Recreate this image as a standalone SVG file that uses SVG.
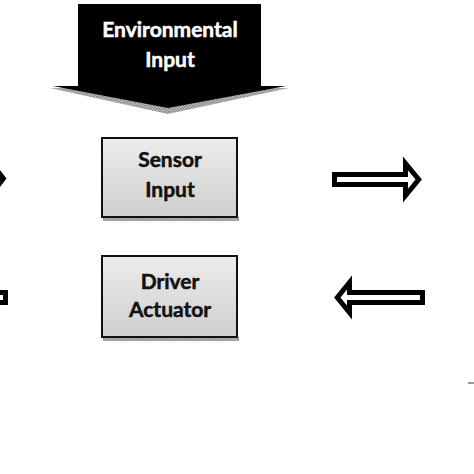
<svg xmlns="http://www.w3.org/2000/svg" width="474" height="474" viewBox="0 0 474 474">
  <defs>
    <linearGradient id="boxGrad" x1="0" y1="0" x2="0" y2="1">
      <stop offset="0" stop-color="#ececec"/>
      <stop offset="1" stop-color="#cfcfcf"/>
    </linearGradient>
    <pattern id="hatch" width="3" height="3" patternUnits="userSpaceOnUse">
      <rect width="3" height="3" fill="#c4c4c4"/>
      <rect width="1.5" height="1.5" fill="#7a7a7a"/>
      <rect x="1.5" y="1.5" width="1.5" height="1.5" fill="#8a8a8a"/>
    </pattern>
  </defs>
  <style>
    .lbl { font-family: "Lato", "Liberation Sans", sans-serif; font-weight: bold; font-size: 21px; text-anchor: middle; stroke-width: 0.5; }
    .dark { fill: #111; stroke: #111; }
    .light { fill: #fff; stroke: #fff; }
    .box { fill: url(#boxGrad); stroke: #111; stroke-width: 2; }
    .shadow { fill: url(#hatch); }
    .block { fill: #fff; stroke: #000; stroke-width: 5; stroke-linejoin: miter; stroke-miterlimit: 10; }
  </style>
  <rect width="474" height="474" fill="#fff"/>

  <g id="environmental-input">
    <polygon class="shadow" points="50,88 289,88 168,114"/>
    <rect x="78" y="4" width="183" height="83" fill="#000"/>
    <polygon points="53,86 286,86 168,108" fill="#000"/>
    <text class="lbl light" x="170" y="37">Environmental</text>
    <text class="lbl light" x="170" y="67">Input</text>
  </g>

  <g id="sensor-input">
    <rect class="shadow" x="103" y="217" width="136" height="4"/>
    <rect class="box" x="102" y="138" width="135" height="79"/>
    <text class="lbl dark" x="170" y="167">Sensor</text>
    <text class="lbl dark" x="170" y="197">Input</text>
  </g>

  <g id="driver-actuator">
    <rect class="shadow" x="103" y="337" width="136" height="4"/>
    <rect class="box" x="102" y="256" width="135" height="81"/>
    <text class="lbl dark" x="170" y="289">Driver</text>
    <text class="lbl dark" x="170" y="317">Actuator</text>
  </g>

  <g id="connectors">
    <path class="block" d="M334.5,174.5 H405.5 V163.5 L418.7,179.5 L405.5,195.5 V184.5 H334.5 Z"/>
    <path class="block" d="M422.5,292.5 H349.5 V282.5 L337.3,297.5 L349.5,312.5 V302.5 H422.5 Z"/>
    <polygon points="0,170 6.5,178.5 0,187" fill="#000"/>
    <path class="block" d="M-10,292.5 H5.5 V302.5 H-10 Z"/>
    <rect x="468" y="382" width="6" height="2" fill="#9a9a9a"/>
  </g>
</svg>
